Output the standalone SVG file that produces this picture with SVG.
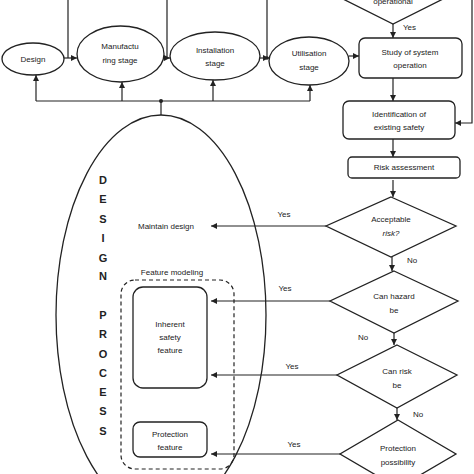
<svg xmlns="http://www.w3.org/2000/svg" width="474" height="474" viewBox="0 0 474 474">
<style>
.s{fill:#fff;stroke:#222;stroke-width:1.3}
.n{fill:none;stroke:#222;stroke-width:1.2}
.d{fill:none;stroke:#222;stroke-width:1.2;stroke-dasharray:4,3}
.a{fill:none;stroke:#222;stroke-width:1.2;marker-end:url(#ah)}
text{font-family:"Liberation Sans",Arial,sans-serif;font-size:8px;fill:#222;text-anchor:middle}
.b{font-weight:bold;font-size:11px}
.l{text-anchor:start}
</style>
<defs>
<marker id="ah" viewBox="0 0 10 10" refX="10" refY="5" markerWidth="6" markerHeight="6" orient="auto" markerUnits="userSpaceOnUse">
<path d="M0,0L10,5L0,10z" fill="#222"/>
</marker>
</defs>
<rect width="474" height="474" fill="#fff"/>

<g id="design-process">
<ellipse class="s" cx="161" cy="315" rx="105" ry="200"/>
<text class="b" x="103" y="184">D</text>
<text class="b" x="103" y="203">E</text>
<text class="b" x="103" y="223">S</text>
<text class="b" x="103" y="242">I</text>
<text class="b" x="103" y="262">G</text>
<text class="b" x="103" y="280">N</text>
<text class="b" x="103" y="319">P</text>
<text class="b" x="103" y="338">R</text>
<text class="b" x="103" y="358">O</text>
<text class="b" x="103" y="377">C</text>
<text class="b" x="103" y="396">E</text>
<text class="b" x="103" y="415">S</text>
<text class="b" x="103" y="435">S</text>
</g>

<g id="maintain-design"><text x="166" y="229">Maintain design</text></g>

<g id="feature-modeling">
<rect class="d" x="121" y="280" width="113" height="189" rx="14"/>
<text x="172" y="275">Feature modeling</text>
</g>
<g id="inherent-safety">
<rect class="s" x="133" y="287" width="74" height="101" rx="10"/>
<text x="170" y="327">Inherent</text>
<text x="170" y="340">safety</text>
<text x="170" y="353">feature</text>
</g>
<g id="protection-feature">
<rect class="s" x="133" y="422" width="74" height="35" rx="7"/>
<text x="170" y="437">Protection</text>
<text x="170" y="450">feature</text>
</g>

<g id="connectors">
<!-- top incoming lines -->
<path class="n" d="M68,0V58M167,0V58M267,0V58"/>
<path class="a" d="M64,58H77"/>
<path class="a" d="M164,58H170"/>
<path class="a" d="M260,58H269"/>
<path class="a" d="M349,56H359"/>
<circle cx="267" cy="58" r="1.8" fill="#222"/>
<!-- bus -->
<path class="n" d="M36,101H310M161,101V115"/>
<circle cx="161" cy="101" r="2" fill="#222"/>
<path class="a" d="M36,101V75"/>
<path class="a" d="M122,101V82"/>
<path class="a" d="M213,101V80"/>
<path class="a" d="M310,101V85"/>
<!-- right loop -->
<path class="a" d="M472,0V123H455"/>
<!-- main chain -->
<path class="a" d="M393,24V38"/>
<path class="a" d="M393,78V101"/>
<path class="a" d="M393,139V157"/>
<path class="a" d="M393,180V197"/>
<path class="a" d="M392,257V271"/>
<path class="a" d="M394,333V345"/>
<path class="a" d="M397,408V420"/>
<!-- yes branches -->
<path class="a" d="M326,226H211"/>
<path class="a" d="M330,301H211"/>
<path class="a" d="M337,375H211"/>
<path class="a" d="M340,454H211"/>
<text x="403" y="30" class="l">Yes</text>
<text x="284" y="217">Yes</text>
<text x="407" y="263" class="l">No</text>
<text x="285" y="291">Yes</text>
<text x="363" y="340">No</text>
<text x="292" y="369">Yes</text>
<text x="413" y="417" class="l">No</text>
<text x="294" y="447">Yes</text>
</g>

<g id="operational">
<polygon class="s" points="393,-36 453,-6 393,24 333,-6"/>
<text x="393" y="4">operational</text>
</g>

<g id="stage-design"><ellipse class="s" cx="33" cy="59" rx="31" ry="16"/><text x="33" y="62">Design</text></g>
<g id="stage-manufacturing"><ellipse class="s" cx="120.5" cy="54" rx="43.5" ry="28"/><text x="120" y="49">Manufactu</text><text x="120" y="63">ring stage</text></g>
<g id="stage-installation"><ellipse class="s" cx="215" cy="56" rx="45" ry="24"/><text x="215" y="53">Installation</text><text x="215" y="66">stage</text></g>
<g id="stage-utilisation"><ellipse class="s" cx="309" cy="61" rx="40" ry="24"/><text x="309" y="56">Utilisation</text><text x="309" y="70">stage</text></g>

<g id="study"><rect class="s" x="359" y="38" width="103" height="40" rx="6"/><text x="410" y="55">Study of system</text><text x="410" y="68">operation</text></g>
<g id="identification"><rect class="s" x="343" y="101" width="112" height="38" rx="6"/><text x="399" y="117">Identification of</text><text x="399" y="130">existing safety</text></g>
<g id="risk-assessment"><rect class="s" x="348" y="157" width="112" height="21" rx="4"/><text x="404" y="170">Risk assessment</text></g>

<g id="acceptable"><polygon class="s" points="391,197 456,226 391,257 326,226"/><text x="391" y="222">Acceptable</text><text x="391" y="236" font-style="italic">risk?</text></g>
<g id="can-hazard"><polygon class="s" points="394,271 458,301 394,333 330,301"/><text x="394" y="299">Can hazard</text><text x="394" y="313">be</text></g>
<g id="can-risk"><polygon class="s" points="397,345 457,375 397,408 337,375"/><text x="397" y="374">Can risk</text><text x="397" y="388">be</text></g>
<g id="protection-possibility"><polygon class="s" points="398,420 456,454 398,488 340,454"/><text x="398" y="451">Protection</text><text x="398" y="465">possibility</text></g>
</svg>
